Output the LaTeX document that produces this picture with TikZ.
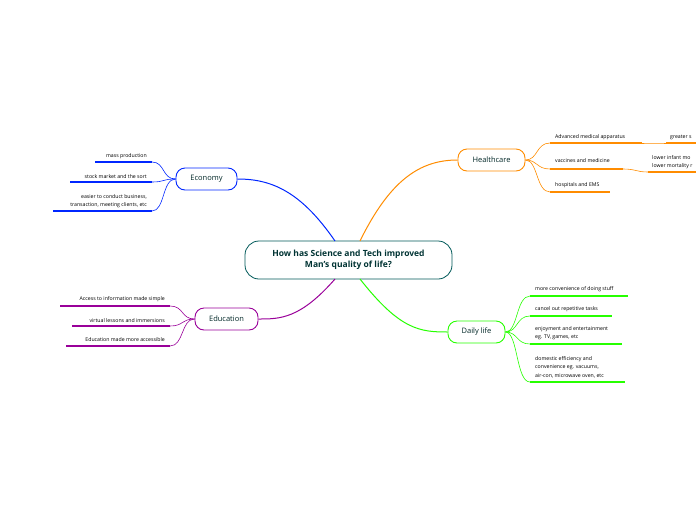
\documentclass[tikz,border=0pt]{standalone}
\usepackage{fontspec}
\setmainfont{Open Sans}
\begin{document}
\begin{tikzpicture}[x=1pt,y=-1pt,
  ctr/.style={draw=teal!70!black, line width=0.8pt, rounded corners=14pt, minimum width=207pt, minimum height=38pt, align=center, font=\fontsize{8.5}{10.5}\selectfont\bfseries, text=teal!40!black},
  mainn/.style={draw=#1, line width=0.9pt, rounded corners=9pt, minimum height=22pt, font=\fontsize{7.5}{9}\selectfont, text=teal!30!black},
  sub/.style={font=\fontsize{5.2}{8.5}\selectfont, align=left, inner sep=0pt},
  subr/.style={font=\fontsize{5.2}{8.5}\selectfont, align=right, inner sep=0pt},
  ul/.style={draw=#1, line width=1.3pt},
  cn/.style={draw=#1, line width=0.6pt},
  big/.style={draw=#1, line width=1pt}]
\useasboundingbox (0,0) rectangle (696,520);
\colorlet{eco}{blue!85!cyan}
\colorlet{hc}{orange!90!yellow}
\colorlet{ed}{violet!80!magenta}
\colorlet{dl}{green!80!lime}
\node[ctr] (c) at (348.5,260) {How has Science and Tech improved\\Man's quality of life?};
\node[mainn=eco, minimum width=61pt] (eco) at (206.5,179) {Economy};
\node[mainn=hc, minimum width=67pt] (hc) at (491.5,160) {Healthcare};
\node[mainn=ed, minimum width=63pt] (ed) at (226.5,319) {Education};
\node[mainn=dl, minimum width=57pt] (dl) at (476.5,332) {Daily life};
\draw[big=eco] (335,241) .. controls (300,190) and (270,179) .. (eco.east);
\draw[big=hc] (360,241) .. controls (390,180) and (420,160) .. (hc.west);
\draw[big=ed] (335,279) .. controls (300,319) and (280,319) .. (ed.east);
\draw[big=dl] (360,279) .. controls (400,330) and (420,332) .. (dl.west);
% Economy
\node[subr, anchor=south east] (e1) at (147,159) {mass production};
\node[subr, anchor=south east] (e2) at (147,179) {stock market and the sort};
\node[subr, anchor=south east] (e3) at (147,208) {easier to conduct business,\\transaction, meeting clients, etc};
\coordinate (e1a) at (95,162); \coordinate (e1b) at (152,162);
\coordinate (e2a) at (70,182); \coordinate (e2b) at (152,182);
\coordinate (e3a) at (53,211); \coordinate (e3b) at (152,211);
\foreach \i in {1,2,3}{\draw[ul=eco] (e\i a) -- (e\i b); \draw[cn=eco] (eco.west) .. controls (162,179) and (165,0|-e\i b) .. (e\i b);}
% Healthcare
\node[sub, anchor=south west] (h1) at (555,140) {Advanced medical apparatus};
\node[sub, anchor=south west] (h2) at (555,163) {vaccines and medicine};
\node[sub, anchor=south west] (h3) at (555,188) {hospitals and EMS};
\coordinate (h1a) at (550,143); \coordinate (h1b) at (642,143);
\coordinate (h2a) at (550,169); \coordinate (h2b) at (623,169);
\coordinate (h3a) at (550,192); \coordinate (h3b) at (610,192);
\foreach \i in {1,2,3}{\draw[ul=hc] (h\i a) -- (h\i b); \draw[cn=hc] (hc.east) .. controls (538,160) and (536,0|-h\i a) .. (h\i a);}
\node[sub, anchor=south west] (h4) at (670,140) {greater s};
\coordinate (h4a) at (666,143); \coordinate (h4b) at (700,143);
\draw[ul=hc] (h4a) -- (h4b); \draw[cn=hc] (h1b) .. controls (655,143) and (655,143) .. (h4a);
\node[sub, anchor=south west] (h5) at (652,169) {lower infant mo\\lower mortality r};
\coordinate (h5a) at (648,172); \coordinate (h5b) at (700,172);
\draw[ul=hc] (h5a) -- (h5b); \draw[cn=hc] (h2b) .. controls (636,169) and (636,172) .. (h5a);
\clip (0,0) rectangle (696,520);
% Daily life
\node[sub, anchor=south west] (d1) at (535,292) {more convenience of doing stuff};
\node[sub, anchor=south west] (d2) at (535,312) {cancel out repetitive tasks};
\node[sub, anchor=south west] (d3) at (535,340) {enjoyment and entertainment\\eg. TV, games, etc};
\node[sub, anchor=south west] (d4) at (535,378) {domestic efficiency and\\convenience eg. vacuums,\\air-con, microwave oven, etc};
\coordinate (d1a) at (530,296); \coordinate (d1b) at (628,296);
\coordinate (d2a) at (530,316); \coordinate (d2b) at (612,316);
\coordinate (d3a) at (530,344); \coordinate (d3b) at (622,344);
\coordinate (d4a) at (530,382); \coordinate (d4b) at (625,382);
\foreach \i in {1,2,3,4}{\draw[ul=dl] (d\i a) -- (d\i b); \draw[cn=dl] (dl.east) .. controls (518,332) and (516,0|-d\i a) .. (d\i a);}
% Education
\node[subr, anchor=south east] (u1) at (165,302) {Access to information made simple};
\node[subr, anchor=south east] (u2) at (165,323) {virtual lessons and immersions};
\node[subr, anchor=south east] (u3) at (165,342) {Education made more accessible};
\coordinate (u1a) at (60,306); \coordinate (u1b) at (170,306);
\coordinate (u2a) at (72,326); \coordinate (u2b) at (170,326);
\coordinate (u3a) at (66,346); \coordinate (u3b) at (170,346);
\foreach \i in {1,2,3}{\draw[ul=ed] (u\i a) -- (u\i b); \draw[cn=ed] (ed.west) .. controls (181,319) and (184,0|-u\i b) .. (u\i b);}
\end{tikzpicture}
\end{document}
